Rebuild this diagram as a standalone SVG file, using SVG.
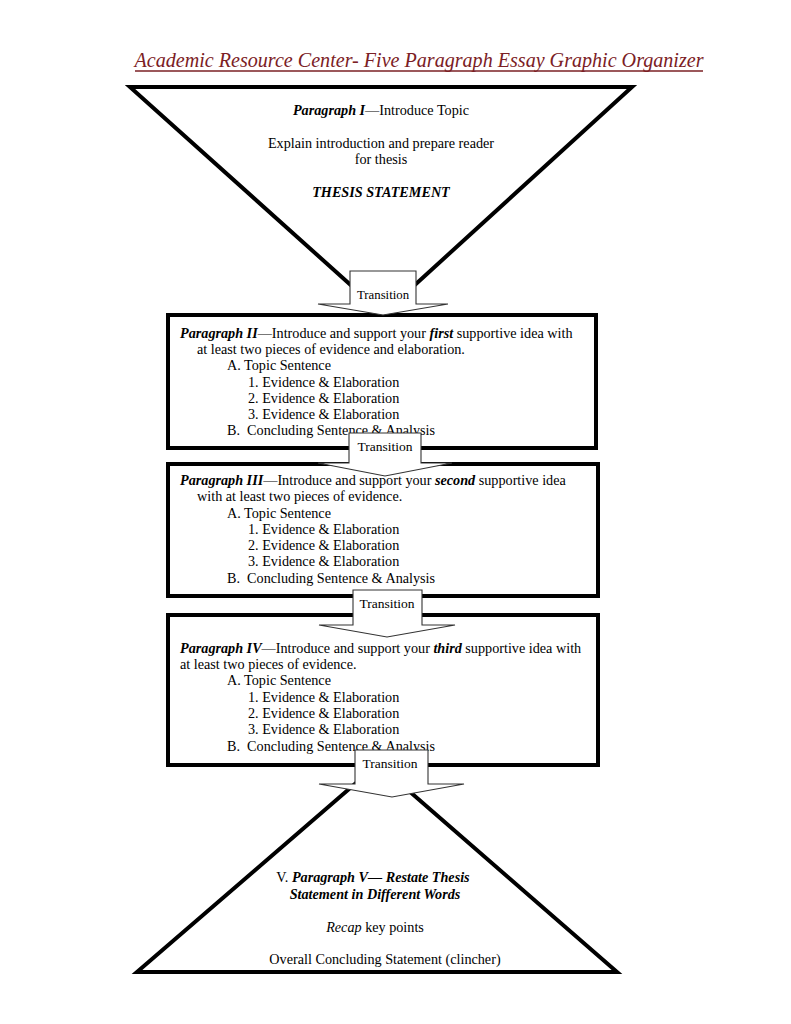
<svg xmlns="http://www.w3.org/2000/svg" width="791" height="1024" viewBox="0 0 791 1024">
<style>
text{font-family:"Liberation Serif","Times New Roman",serif;font-size:14.2px;fill:#000}
.bi{font-weight:bold;font-style:italic}
.it{font-style:italic}
.c{text-anchor:middle}
.frame{fill:#fff;stroke:#000;stroke-width:4}
.arrow{fill:#fff;stroke:#333;stroke-width:1.1}
.tr{font-size:13.5px;text-anchor:middle}
</style>
<rect width="791" height="1024" fill="#fff"/>
<g id="title">
<text x="419" y="67" class="c it" style="font-size:20.1px;fill:#7B2024">Academic Resource Center- Five Paragraph Essay Graphic Organizer</text>
<line x1="135" y1="71" x2="703" y2="71" stroke="#7B2024" stroke-width="1.3"/>
</g>
<g id="p1">
<polygon class="frame" points="130,87 632,87 383,314"/>
<text x="381" y="115" class="c"><tspan class="bi">Paragraph I</tspan>—Introduce Topic</text>
<text x="381" y="148" class="c">Explain introduction and prepare reader</text>
<text x="381" y="164" class="c">for thesis</text>
<text x="381" y="197" class="c bi">THESIS STATEMENT</text>
</g>
<g id="p2">
<rect class="frame" x="168" y="315" width="428" height="133"/>
<text x="180" y="338"><tspan class="bi">Paragraph II</tspan>—Introduce and support your <tspan class="bi">first</tspan> supportive idea with</text>
<text x="197" y="354">at least two pieces of evidence and elaboration.</text>
<text x="227" y="370">A. Topic Sentence</text>
<text x="248" y="387">1. Evidence &amp; Elaboration</text>
<text x="248" y="403">2. Evidence &amp; Elaboration</text>
<text x="248" y="419">3. Evidence &amp; Elaboration</text>
<text x="227" y="435" xml:space="preserve">B.  Concluding Sentence &amp; Analysis</text>
</g>
<g id="p3">
<rect class="frame" x="168" y="464" width="430" height="132"/>
<text x="180" y="485"><tspan class="bi">Paragraph III</tspan>—Introduce and support your <tspan class="bi">second</tspan> supportive idea</text>
<text x="197" y="501">with at least two pieces of evidence.</text>
<text x="227" y="518">A. Topic Sentence</text>
<text x="248" y="534">1. Evidence &amp; Elaboration</text>
<text x="248" y="550">2. Evidence &amp; Elaboration</text>
<text x="248" y="566">3. Evidence &amp; Elaboration</text>
<text x="227" y="583" xml:space="preserve">B.  Concluding Sentence &amp; Analysis</text>
</g>
<g id="p5">
<polygon class="frame" points="137,972 617,972 378,764"/>
<text x="373" y="882" class="c">V. <tspan class="bi">Paragraph V— Restate Thesis</tspan></text>
<text x="375" y="899" class="c bi">Statement in Different Words</text>
<text x="375" y="932" class="c"><tspan class="it">Recap</tspan> key points</text>
<text x="385" y="964" class="c">Overall Concluding Statement (clincher)</text>
</g>
<g id="p4">
<rect class="frame" x="168" y="615" width="430" height="150"/>
<text x="180" y="653"><tspan class="bi">Paragraph IV</tspan>—Introduce and support your <tspan class="bi">third</tspan> supportive idea with</text>
<text x="180" y="669">at least two pieces of evidence.</text>
<text x="227" y="685">A. Topic Sentence</text>
<text x="248" y="702">1. Evidence &amp; Elaboration</text>
<text x="248" y="718">2. Evidence &amp; Elaboration</text>
<text x="248" y="734">3. Evidence &amp; Elaboration</text>
<text x="227" y="751" xml:space="preserve">B.  Concluding Sentence &amp; Analysis</text>
</g>
<g id="connectors">
<g id="t1">
<path class="arrow" d="M350,271 H416 V304 H448 L383,315 L318,304 H350 Z"/>
<text x="383" y="299" class="tr" style="font-size:12.8px">Transition</text>
</g>
<g id="t2">
<path class="arrow" d="M349,433 H421 V463 H452 L385,476 L318,463 H349 Z"/>
<text x="385" y="451" class="tr">Transition</text>
</g>
<g id="t3">
<path class="arrow" d="M353,590 H422 V625 H455 L387,637 L319,625 H353 Z"/>
<text x="387" y="608" class="tr">Transition</text>
</g>
<g id="t4">
<path class="arrow" d="M355,750 H428 V784 H464 L392,797 L319,784 H355 Z"/>
<text x="390" y="768" class="tr">Transition</text>
</g>
</g>
</svg>
